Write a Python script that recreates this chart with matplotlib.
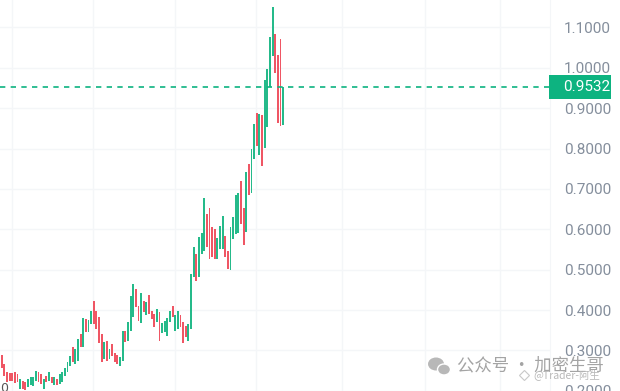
import matplotlib
matplotlib.use("Agg")
import matplotlib.pyplot as plt
from matplotlib.patches import Ellipse, Rectangle
from matplotlib.lines import Line2D
import numpy as np

# ---- data ----
opens = [0.289, 0.267, 0.247, 0.245, 0.243, 0.246, 0.242, 0.205, 0.225, 0.222,
         0.210, 0.215, 0.212, 0.225, 0.247, 0.242, 0.205, 0.237, 0.225, 0.235,
         0.215, 0.230, 0.217, 0.222, 0.237, 0.247, 0.262, 0.309, 0.267, 0.274,
         0.341, 0.309, 0.378, 0.346, 0.365, 0.422, 0.398, 0.383, 0.341, 0.279,
         0.324, 0.279, 0.316, 0.294, 0.289, 0.262, 0.274, 0.348, 0.324, 0.348,
         0.383, 0.452, 0.410, 0.368, 0.422, 0.388, 0.437, 0.398, 0.390, 0.370,
         0.395, 0.343, 0.346, 0.336, 0.370, 0.410, 0.348, 0.353, 0.388, 0.370,
         0.361, 0.324, 0.353, 0.482, 0.538, 0.482, 0.538, 0.546, 0.637, 0.652,
         0.605, 0.602, 0.526, 0.551, 0.551, 0.583, 0.546, 0.499, 0.575, 0.588,
         0.590, 0.719, 0.652, 0.593, 0.763, 0.691, 0.773, 0.889, 0.783, 0.884,
         0.802, 0.854, 0.953, 1.030, 1.084, 1.032, 1.072, 0.859]
closes = [0.257, 0.237, 0.222, 0.225, 0.224, 0.219, 0.222, 0.230, 0.205, 0.203,
          0.230, 0.235, 0.234, 0.249, 0.222, 0.217, 0.230, 0.222, 0.247, 0.220,
          0.235, 0.215, 0.242, 0.247, 0.257, 0.272, 0.286, 0.272, 0.304, 0.328,
          0.309, 0.380, 0.346, 0.375, 0.398, 0.365, 0.353, 0.319, 0.272, 0.321,
          0.274, 0.304, 0.286, 0.272, 0.267, 0.284, 0.348, 0.321, 0.370, 0.435,
          0.464, 0.407, 0.373, 0.442, 0.395, 0.420, 0.390, 0.378, 0.358, 0.402,
          0.324, 0.368, 0.373, 0.380, 0.398, 0.383, 0.388, 0.398, 0.358, 0.319,
          0.333, 0.365, 0.489, 0.556, 0.472, 0.580, 0.590, 0.677, 0.556, 0.526,
          0.531, 0.526, 0.578, 0.607, 0.632, 0.531, 0.501, 0.605, 0.630, 0.686,
          0.689, 0.612, 0.561, 0.741, 0.684, 0.798, 0.862, 0.807, 0.886, 0.758,
          0.970, 0.998, 1.077, 1.151, 0.988, 0.864, 0.857, 0.9532]
last_price = 0.9532
price_ticks = [0.2, 0.3, 0.4, 0.5, 0.6, 0.7, 0.8, 0.9, 1.0, 1.1]
watermark = "公众号 · 加密生哥"
handle = "@Trader-阿生"

GREEN = "#25ba8a"
RED = "#ef5664"
LABEL_GREEN = "#0db380"
TICK_COLOR = "#848e9c"
GRID = "#f4f6f8"

W, H = 620, 391
AX_W = 550
fig = plt.figure(figsize=(W / 100, H / 100), dpi=100)
fig.patch.set_facecolor("white")
ax = fig.add_axes([0, 0, AX_W / W, 1])
ax.set_facecolor("white")

o = np.array(opens)
c = np.array(closes)
x = np.arange(len(o))
cols = [GREEN if cc >= oo else RED for oo, cc in zip(o, c)]
ax.bar(x, np.abs(c - o), bottom=np.minimum(o, c), width=0.72, color=cols,
       linewidth=0, zorder=3)

X0, X1 = -0.65, 208.5
ax.set_xlim(X0, X1)
ax.set_ylim(0.1995, 1.168)

# grid (vertical lines sit at time boundaries, given in pixel positions)
for p in price_ticks:
    ax.axhline(p, color=GRID, lw=1, zorder=0)
for gpx in [12, 93, 175, 256, 342, 425, 500]:
    ax.axvline(X0 + gpx / AX_W * (X1 - X0), color=GRID, lw=1, zorder=0)

# last price line
ax.axhline(last_price, color=LABEL_GREEN, lw=1.2, ls=(0, (3.2, 3.2)), zorder=4)

# axis styling
ax.yaxis.tick_right()
ax.set_yticks(price_ticks)
ax.set_yticklabels([f"{p:.4f}" for p in price_ticks])
ax.tick_params(axis="y", length=0, pad=10, labelsize=11, labelcolor=TICK_COLOR)
for lab in ax.get_yticklabels():
    lab.set_family("Roboto")
ax.set_xticks([])
for s in ["top", "bottom", "left"]:
    ax.spines[s].set_visible(False)
ax.spines["right"].set_color(GRID)

# last price label
yfig = ax.transData.transform((0, last_price))[1] / H
fig.add_artist(Rectangle((549 / W, yfig - 12 / H), 62 / W, 24 / H,
                         transform=fig.transFigure, facecolor=LABEL_GREEN,
                         edgecolor="none", zorder=10))
fig.text(563 / W, yfig, f"{last_price:.4f}", color="white", fontsize=11,
         family="Roboto", ha="left", va="center", zorder=11)

# watermark
cjk = ["Noto Sans CJK SC", "DejaVu Sans"]
fig.add_artist(Ellipse((436 / W, 1 - 364 / H), 16 / W, 13 / H,
                       transform=fig.transFigure, facecolor="#b8b8b8",
                       edgecolor="none", zorder=12))
fig.add_artist(Ellipse((444 / W, 1 - 369.5 / H), 13 / W, 11 / H,
                       transform=fig.transFigure, facecolor="#b8b8b8",
                       edgecolor="white", lw=1, zorder=12))
fig.text(457 / W, 1 - 365 / H, watermark, fontsize=12.5, color="#9a9a9a",
         alpha=0.9, family=cjk, ha="left", va="center", zorder=12)
fig.add_artist(Line2D([524 / W], [1 - 375 / H], marker="D", markersize=5,
                      mfc="none", mec="#c8c8c8", mew=0.8,
                      transform=fig.transFigure, zorder=12))
fig.text(533 / W, 1 - 375 / H, handle, fontsize=7.5, color="#b8b8b8",
         family=cjk, ha="left", va="center", zorder=12)
fig.text(0, 1 - 388 / H, "0", fontsize=9, color="#555555", ha="left",
         va="center", zorder=12)

fig.savefig("out.png", dpi=100, facecolor="white")
